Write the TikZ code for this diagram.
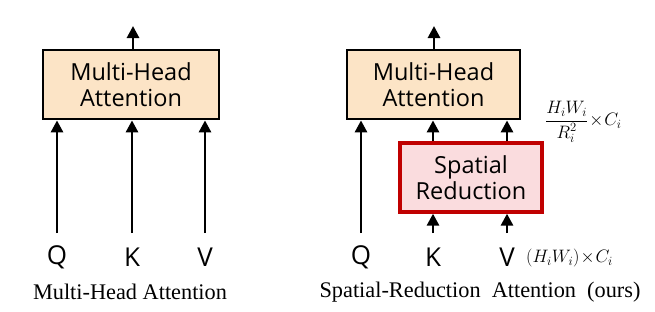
\documentclass[tikz,border=0pt]{standalone}
\usepackage{fix-cm}
\usepackage{amsmath}
\usepackage{fontspec}
\setmainfont{Liberation Serif}
\newfontfamily\boxfont{Open Sans}
\usepackage{xcolor}
\usepackage{tikz}
\usetikzlibrary{arrows.meta}

\definecolor{mhafill}{HTML}{FCE4C6}
\definecolor{srfill}{HTML}{FADCDE}
\definecolor{srred}{HTML}{C00000}

\begin{document}
\begin{tikzpicture}[x=1pt,y=-1pt,font=\boxfont,
  attbox/.style={draw=black, fill=mhafill, line width=2.8pt, align=center, inner sep=0pt,
    minimum height=69pt, font=\boxfont\fontsize{23.5}{26}\selectfont},
  srbox/.style={draw=srred, fill=srfill, line width=3.3pt, align=center, inner sep=0pt,
    minimum width=142pt, minimum height=69pt, font=\boxfont\fontsize{23.5}{26}\selectfont},
  inlabel/.style={font=\boxfont\fontsize{26}{30}\selectfont},
  caption/.style={font=\rmfamily\fontsize{22.3}{26}\selectfont},
  dimlabel/.style={font=\fontsize{18}{20}\selectfont, inner sep=0pt},
  flow/.style={line width=2.8pt, -{Triangle[length=12pt,width=12pt]}}]
  \useasboundingbox (0,0) rectangle (655,311);

  % left: plain multi-head attention
  \node[attbox, minimum width=176pt] (mhaL) at (131,84.5) {Multi-Head\\Attention};
  \coordinate (outL) at (133,26);
  \draw[flow] (mhaL.north -| outL) -- (outL);
  \foreach \xx/\name in {57/Q,132/K,205/V} {
    \node[inlabel] (lab\name L) at (\xx,257) {\name};
    \coordinate (in\name L) at (\xx,233);
    \draw[flow] (in\name L) -- (mhaL.south -| in\name L);
  }
  \node[caption] (capL) at (130,292) {Multi-Head Attention};

  % right: spatial-reduction attention
  \node[attbox, minimum width=173pt] (mhaR) at (433.5,84.5) {Multi-Head\\Attention};
  \node[srbox] (sr) at (471,177.5) {Spatial\\Reduction};
  \coordinate (outR) at (434,26);
  \draw[flow] (mhaR.north -| outR) -- (outR);
  \foreach \xx/\name in {361/Q,433/K,507/V} {
    \node[inlabel] (lab\name R) at (\xx,257) {\name};
    \coordinate (in\name R) at (\xx,233);
  }
  \draw[flow] (inQR) -- (mhaR.south -| inQR);
  \foreach \name in {K,V} {
    \draw[flow] (in\name R) -- (sr.south -| in\name R);
    \draw[flow] (sr.north -| in\name R) -- (mhaR.south -| in\name R);
  }
  \node[dimlabel, anchor=west] (dimSR) at (545,122) {$\dfrac{H_iW_i}{R_i^2}\!\times\! C_i$};
  \node[dimlabel, anchor=west] (dimV) at (526,258) {$(H_iW_i)\!\times\! C_i$};
  \node[caption] (capR) at (480,292) {Spatial-Reduction\enspace Attention\enspace (ours)};
\end{tikzpicture}
\end{document}
